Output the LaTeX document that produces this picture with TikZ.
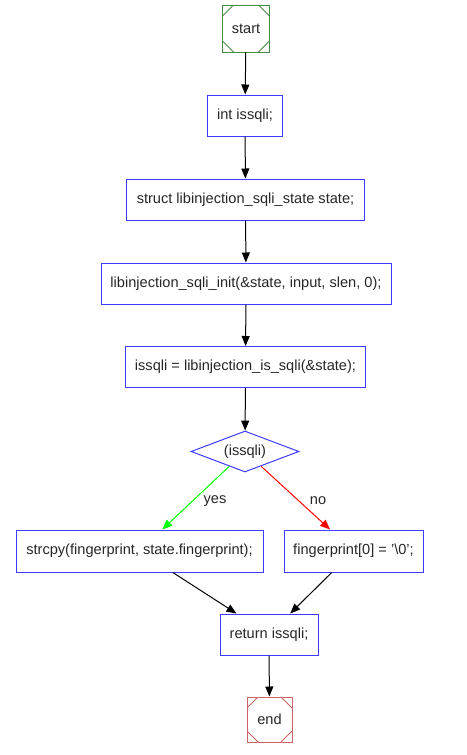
\documentclass[tikz,border=0pt]{standalone}
\usepackage{fontspec}
\setmainfont{Liberation Sans}
\usetikzlibrary{shapes.geometric, arrows.meta}
\definecolor{startgreen}{RGB}{70,140,70}
\definecolor{endbrown}{RGB}{205,100,100}
\definecolor{boxblue}{RGB}{60,60,255}
\begin{document}
\begin{tikzpicture}[x=1pt, y=-1pt, font=\fontsize{14.6}{17}\selectfont, text=black!85,
        stmt/.style={draw=boxblue, line width=1pt, minimum height=41pt, inner sep=0pt},
        cond/.style={draw=boxblue, line width=1pt, shape=diamond, aspect=2.6,
            minimum width=108pt, minimum height=41pt, inner sep=0pt},
        term/.style={draw=#1, line width=1pt, minimum size=47pt, inner sep=0pt,
            path picture={
                \draw[#1, line width=1pt] ([xshift=11pt]path picture bounding box.north west) to ([yshift=-11pt]path picture bounding box.north west);
                \draw[#1, line width=1pt] ([xshift=-11pt]path picture bounding box.north east) to ([yshift=-11pt]path picture bounding box.north east);
                \draw[#1, line width=1pt] ([xshift=11pt]path picture bounding box.south west) to ([yshift=11pt]path picture bounding box.south west);
                \draw[#1, line width=1pt] ([xshift=-11pt]path picture bounding box.south east) to ([yshift=11pt]path picture bounding box.south east);}},
        flow/.style={line width=1pt, -{Triangle[length=10pt, width=8pt]}}]%% start picture

            \useasboundingbox (0, 0) rectangle (466, 755);

            %% straight part
                \node[term=startgreen] (start) at (246, 28.5){start};
                \node[stmt, minimum width=75pt] (decl) at (245, 115.5){int issqli;};
                \node[stmt, minimum width=238pt] (state) at (245.5, 199.5){struct libinjection\_sqli\_state state;};
                \node[stmt, minimum width=290pt] (init) at (246, 283.5){libinjection\_sqli\_init(\&state, input, slen, 0);};
                \node[stmt, minimum width=240pt] (check) at (245.5, 367){issqli = libinjection\_is\_sqli(\&state);};
                \node[cond] (if) at (245, 451.5){(issqli)};

            %% branches
                \node[stmt, minimum width=247pt, minimum height=42pt] (copy) at (139.5, 551){strcpy(fingerprint, state.fingerprint);};
                \node[stmt, minimum width=139pt, minimum height=42pt] (clear) at (353.5, 551){fingerprint[0] = '\textbackslash 0';};
                \node (yes) at (215, 501){yes};
                \node (no) at (318, 501){no};

            %% end part
                \node[stmt, minimum width=98pt] (ret) at (269, 634.5){return issqli;};
                \node[term=endbrown, minimum size=45pt] (end) at (269.5, 719.5){end};

                \draw[flow] (start) to (decl);
                \draw[flow] (decl) to (state);
                \draw[flow] (state) to (init);
                \draw[flow] (init) to (check);
                \draw[flow] (check) to (if);
                \draw[flow, green] (if) to (copy);
                \draw[flow, red] (if) to (clear);
                \draw[flow] (copy) to (ret);
                \draw[flow] (clear) to (ret);
                \draw[flow] (ret) to (end);

\end{tikzpicture}
\end{document}
